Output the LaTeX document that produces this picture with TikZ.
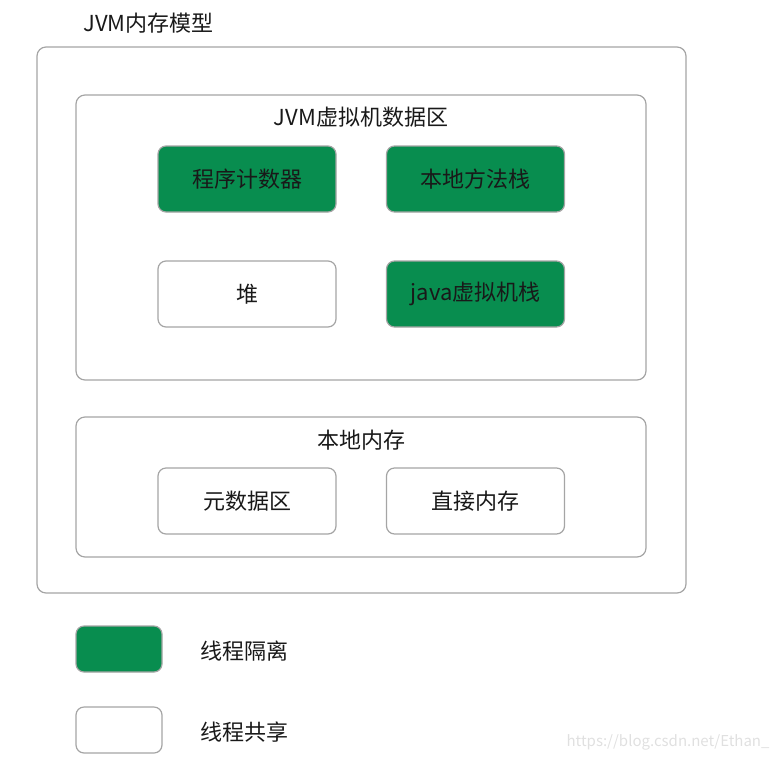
\documentclass[tikz,border=0pt]{standalone}
\usepackage{fontspec}
\setmainfont{Noto Sans CJK SC}
\usepackage{tikz}
\usetikzlibrary{positioning}
\definecolor{threadGreen}{RGB}{8,141,79}
\definecolor{borderColor}{RGB}{165,165,165}
\definecolor{textColor}{RGB}{25,25,25}
\tikzstyle{memory} = [x = 1pt, y = -1pt, every node/.style={text=textColor, font=\fontsize{22}{26}\selectfont}]
\tikzstyle{frameStyle} = [draw=borderColor, line width=1.2pt, rounded corners = 9pt, inner sep=0pt]
\tikzstyle{blockStyle} = [draw=borderColor, line width=1.2pt, rounded corners = 8pt, minimum width=178pt, minimum height=66pt, inner sep=0pt]
\tikzstyle{isolatedStyle} = [blockStyle, fill=threadGreen]
\tikzstyle{sharedStyle} = [blockStyle, fill=white]
\tikzstyle{legendStyle} = [minimum width=86pt, minimum height=46pt]
\newcommand{\frameBox}[5]{\node [frameStyle, minimum width=#3, minimum height=#4] (#1) at (#2) {#5};}
\newcommand{\memBlock}[4]{\node [#1] (#2) at (#3) {#4};}

\begin{document}
\begin{tikzpicture}[memory]
    \useasboundingbox (0,0) rectangle (773,766);
    % outer model
    \frameBox{jvmModel}{361.5,320}{649pt}{546pt}{}
    \node [anchor=west] (jvmTitle) at (80,23) {JVM内存模型};
    % data area
    \frameBox{dataArea}{361,237.5}{570pt}{285pt}{}
    \node (dataTitle) at (361,117) {JVM虚拟机数据区};
    \memBlock{isolatedStyle}{pcCounter}{247,179}{程序计数器}
    \memBlock{isolatedStyle}{nativeStack}{475.5,179}{本地方法栈}
    \memBlock{sharedStyle}{heapArea}{247,294}{堆}
    \memBlock{isolatedStyle}{javaStack}{475.5,294}{java虚拟机栈}
    % native memory
    \frameBox{nativeMem}{361,487}{570pt}{140pt}{}
    \node (nativeTitle) at (361,440) {本地内存};
    \memBlock{sharedStyle}{metaSpace}{247,501}{元数据区}
    \memBlock{sharedStyle}{directMem}{475.5,501}{直接内存}
    % legend
    \memBlock{isolatedStyle, legendStyle}{legendIsolated}{119,649}{}
    \node [anchor=west] (isolatedText) at (197,651) {线程隔离};
    \memBlock{sharedStyle, legendStyle}{legendShared}{119,730}{}
    \node [anchor=west] (sharedText) at (197,732) {线程共享};
    \node [anchor=east, text=black!12, font=\fontsize{15}{18}\selectfont] (waterMark) at (773,742) {https://blog.csdn.net/Ethan\_};
\end{tikzpicture}
\end{document}
